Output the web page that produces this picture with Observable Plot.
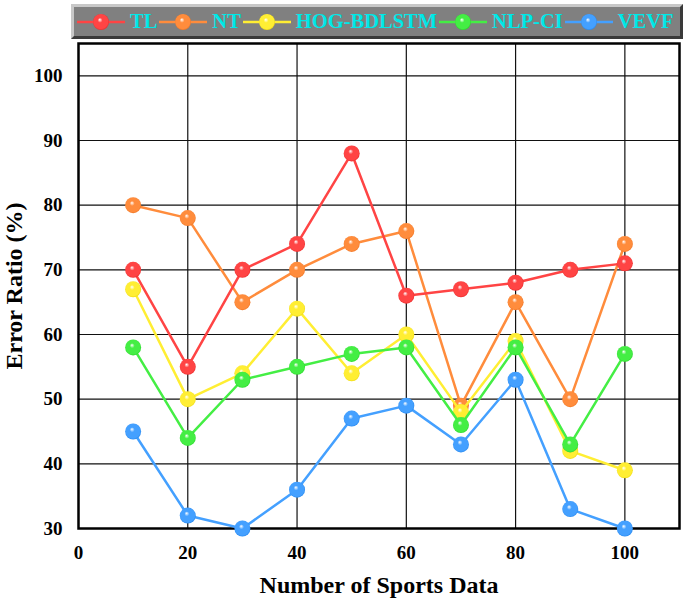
<!DOCTYPE html>
<html>
<head>
<meta charset="utf-8">
<script src="https://cdn.jsdelivr.net/npm/d3@7"></script>
<script src="https://cdn.jsdelivr.net/npm/@observablehq/plot@0.6"></script>
<style>
  html, body { margin: 0; padding: 0; background: white; }
  #wrap { position: relative; width: 685px; height: 609px; }
  #legendRow { height: 40px; position: relative; }
  #legend {
    position: absolute; left: 71px; top: 4px; width: 603px; height: 29px;
    background: #808080;
    border-top: 3px solid #c8c8c8; border-left: 3px solid #c8c8c8;
    border-bottom: 3px solid #3a3a3a; border-right: 3px solid #3a3a3a;
    display: flex; align-items: center; padding-left: 3px; box-sizing: content-box;
    font-family: "Liberation Serif", "Times New Roman", serif; font-weight: bold;
    font-size: 20.5px; color: #00e8e8; white-space: nowrap;
  }
  .item { display: flex; align-items: center; margin-right: 2px; }
  .item svg { display: block; }
  .item span { margin-left: 5px; }
</style>
</head>
<body>
<svg width="0" height="0" style="position:absolute">
  <defs id="gdefs"></defs>
</svg>
<div id="wrap">
  <div id="legendRow"><div id="legend"></div></div>
  <div id="chart"></div>
</div>
<script>
const xValues = [10, 20, 30, 40, 50, 60, 70, 80, 90, 100];
const seriesNames = ["TL", "NT", "HOG-BDLSTM", "NLP-CI", "VEVF"];
const tlValues   = [70, 55, 70, 74, 88, 66, 67, 68, 70, 71];
const ntValues   = [80, 78, 65, 70, 74, 76, 49, 65, 50, 74];
const hogValues  = [67, 50, 54, 64, 54, 60, 48, 59, 42, 39];
const nlpValues  = [58, 44, 53, 55, 57, 58, 46, 58, 43, 57];
const vevfValues = [45, 32, 30, 36, 47, 49, 43, 53, 33, 30];
const lineColors = ["#ff4444", "#ff8c3c", "#ffee33", "#44ee44", "#44a0ff"];
const darkColors = ["#e02020", "#e86a18", "#e8d200", "#1ccc1c", "#1a7ee8"];
const xTicks = [0, 20, 40, 60, 80, 100];
const yTicks = [30, 40, 50, 60, 70, 80, 90, 100];

const allValues = [tlValues, ntValues, hogValues, nlpValues, vevfValues];
const gid = i => "sphere" + i;

// gradients for spheres
const ns = "http://www.w3.org/2000/svg";
const defs = document.getElementById("gdefs");
lineColors.forEach((c, i) => {
  const g = document.createElementNS(ns, "radialGradient");
  g.setAttribute("id", gid(i));
  g.setAttribute("cx", "50%"); g.setAttribute("cy", "50%"); g.setAttribute("r", "55%");
  g.setAttribute("fx", "42%"); g.setAttribute("fy", "35%");
  [["0%", "#ffffff"], ["28%", c], ["80%", c], ["100%", darkColors[i]]].forEach(([o, col]) => {
    const s = document.createElementNS(ns, "stop");
    s.setAttribute("offset", o); s.setAttribute("stop-color", col);
    g.appendChild(s);
  });
  defs.appendChild(g);
});

// legend
const legend = document.getElementById("legend");
seriesNames.forEach((name, i) => {
  const item = document.createElement("div");
  item.className = "item";
  item.innerHTML = `<svg width="48" height="20"><line x1="0" x2="48" y1="10" y2="10" stroke="${lineColors[i]}" stroke-width="2.5"/><circle cx="24" cy="10" r="8" fill="url(#${gid(i)})"/></svg><span>${name}</span>`;
  legend.appendChild(item);
});

const rows = [];
seriesNames.forEach((name, i) => {
  xValues.forEach((x, j) => rows.push({series: name, idx: i, x, y: allValues[i][j]}));
});

const drawOrder = [1, 0, 2, 3, 4];
const seriesMarks = [];
drawOrder.forEach(i => {
  const d = rows.filter(r => r.idx === i);
  seriesMarks.push(Plot.line(d, {x: "x", y: "y", stroke: lineColors[i], strokeWidth: 2.5}));
  seriesMarks.push(Plot.dot(d, {x: "x", y: "y", r: 8, fill: `url(#${gid(i)})`, stroke: "none"}));
});

const chart = Plot.plot({
  width: 685,
  height: 569,
  marginTop: 3,
  marginRight: 6,
  marginBottom: 81,
  marginLeft: 78,
  style: {fontFamily: "'Liberation Serif', 'Times New Roman', serif", fontWeight: "bold", fontSize: "19px", color: "black", background: "white", overflow: "visible"},
  x: {domain: [0, 110], label: null},
  y: {domain: [30, 105], label: null},
  marks: [
    Plot.gridX(xTicks.filter(t => t > 0), {stroke: "#111", strokeOpacity: 1, strokeWidth: 1.2}),
    Plot.gridY(yTicks.filter(t => t > 30), {stroke: "#111", strokeOpacity: 1, strokeWidth: 1.2}),
    Plot.axisX(xTicks, {tickSize: 0, tickPadding: 17, fontSize: 19, fontWeight: "bold", label: null}),
    Plot.axisY(yTicks, {tickSize: 0, tickPadding: 16, fontSize: 19, fontWeight: "bold", label: null}),
    Plot.frame({stroke: "black", strokeWidth: 2.5}),
    ...seriesMarks,
    Plot.text(["Number of Sports Data"], {frameAnchor: "bottom", dy: 64, fontSize: 24, fontWeight: "bold", textAnchor: "middle"}),
    Plot.text(["Error Ratio (%)"], {frameAnchor: "left", dx: -64, rotate: -90, fontSize: 24, fontWeight: "bold", textAnchor: "middle"})
  ]
});
document.getElementById("chart").appendChild(chart);
</script>
</body>
</html>
